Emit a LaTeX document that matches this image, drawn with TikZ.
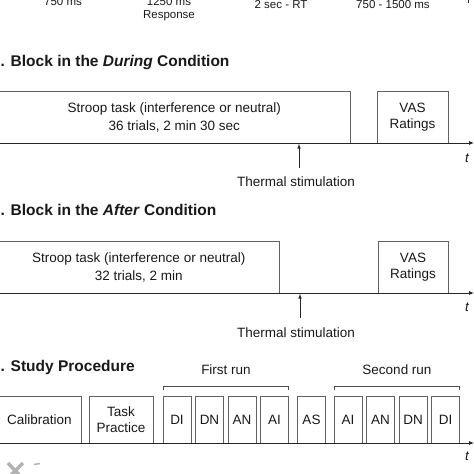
\documentclass[tikz,border=0pt]{standalone}
\usepackage{fontspec}
\setmainfont{Liberation Sans}
\usetikzlibrary{arrows.meta}
\begin{document}
\begin{tikzpicture}[x=1pt,y=-1pt,
  toptxt/.style={font=\fontsize{11.5}{12.5}\selectfont, inner sep=0pt, anchor=base, align=center, text=black!90},
  lbl/.style={font=\fontsize{13.5}{16}\selectfont, inner sep=0pt, anchor=base, text=black!90},
  ttl/.style={font=\fontsize{15.5}{18}\selectfont\bfseries, inner sep=0pt, anchor=base west, text=black!90},
  tlbl/.style={font=\fontsize{13.5}{16}\selectfont\itshape, inner sep=0pt, text=black!90},
  box/.style={draw=black!62, line width=0.75pt, inner sep=0pt, align=center, text=black!90,
              font=\fontsize{13.5}{16}\selectfont},
  axis/.style={draw=black!85, line width=0.8pt, -{Latex[length=5pt,width=4pt]}},
  stim/.style={draw=black!85, line width=0.8pt, -{Latex[length=5pt,width=3.5pt]}},
  brk/.style={draw=black!70, line width=0.75pt},
  wmark/.style={draw=black!30, line width=3.5pt},
]
\useasboundingbox (0,0) rectangle (474,474);
\clip (0,0) rectangle (474,474);

% ---- top (cut) labels ----
\node[toptxt] (t1) at (63,5.5) {750 ms};
\node[toptxt] (t2) at (169,5.5) {1250 ms};
\node[toptxt] (t3) at (169,18) {Response};
\node[toptxt] (t4) at (281,8.5) {2 sec - RT};
\node[toptxt] (t5) at (393,8.5) {750 - 1500 ms};
\coordinate (tk0) at (468,0);
\coordinate (tk1) at (468,3);
\draw[black!80, line width=0.8pt] (tk0) -- (tk1);

% ---- B: During condition ----
\node[ttl] (titB) at (0.5,66) {. Block in the \textit{During} Condition};
\node[box, minimum width=351.5, minimum height=52, font=\fontsize{13.5}{18}\selectfont]
  (stroopB) at (174.25,117) {Stroop task (interference or neutral)\\36 trials, 2 min 30 sec};
\node[box, minimum width=71, minimum height=52] (vasB) at (412.5,117) {VAS\\Ratings};
\coordinate (axB0) at (-5,143);
\coordinate (axB1) at (474,143);
\draw[axis] (axB0) -- (axB1);
\node[tlbl] (tB) at (467,158.5) {t};
\node[lbl] (thB) at (296,186.5) {Thermal stimulation};
\coordinate (sB0) at (299,168);
\coordinate (sB1) at (299,143.5);
\draw[stim] (sB0) -- (sB1);

% ---- C: After condition ----
\node[ttl] (titC) at (0.5,215.5) {. Block in the \textit{After} Condition};
\node[box, minimum width=280.5, minimum height=52, font=\fontsize{13.5}{18}\selectfont]
  (stroopC) at (138.75,267) {Stroop task (interference or neutral)\\32 trials, 2 min};
\node[box, minimum width=70, minimum height=52] (vasC) at (413,267) {VAS\\Ratings};
\coordinate (axC0) at (-5,293);
\coordinate (axC1) at (474,293);
\draw[axis] (axC0) -- (axC1);
\node[tlbl] (tC) at (467,307.5) {t};
\node[lbl] (thC) at (296,337) {Thermal stimulation};
\coordinate (sC0) at (300,318);
\coordinate (sC1) at (300,293.5);
\draw[stim] (sC0) -- (sC1);

% ---- D: Study procedure ----
\node[ttl] (titD) at (0.5,371.3) {. Study Procedure};
\node[lbl] (fr) at (226,374) {First run};
\node[lbl] (sr) at (397,374) {Second run};
\coordinate (fr0) at (163,390);
\coordinate (fr1) at (163,386);
\coordinate (fr2) at (288,386);
\coordinate (fr3) at (288,390);
\draw[brk] (fr0) -- (fr1) -- (fr2) -- (fr3);
\coordinate (sr0) at (334,390);
\coordinate (sr1) at (334,386);
\coordinate (sr2) at (459,386);
\coordinate (sr3) at (459,390);
\draw[brk] (sr0) -- (sr1) -- (sr2) -- (sr3);

\node[box, minimum width=83, minimum height=47] (cal) at (39.5,419.5) {Calibration};
\node[box, minimum width=64, minimum height=47, font=\fontsize{13.5}{15.5}\selectfont] (tp) at (121,419.5) {Task\\Practice};
\node[box, minimum width=28, minimum height=47] (d1) at (177,419.5) {DI};
\node[box, minimum width=28, minimum height=47] (d2) at (209.5,419.5) {DN};
\node[box, minimum width=28, minimum height=47] (d3) at (242,419.5) {AN};
\node[box, minimum width=28, minimum height=47] (d4) at (274.5,419.5) {AI};
\node[box, minimum width=28, minimum height=47] (d5) at (311.5,419.5) {AS};
\node[box, minimum width=28, minimum height=47] (d6) at (348,419.5) {AI};
\node[box, minimum width=28, minimum height=47] (d7) at (380.5,419.5) {AN};
\node[box, minimum width=28, minimum height=47] (d8) at (413,419.5) {DN};
\node[box, minimum width=28, minimum height=47] (d9) at (445.5,419.5) {DI};
\coordinate (axD0) at (-5,443);
\coordinate (axD1) at (474,443);
\draw[axis] (axD0) -- (axD1);
\node[tlbl] (tD) at (467,456) {t};

% ---- watermark fragment ----
\coordinate (w0) at (8,463);
\coordinate (w1) at (22,478);
\coordinate (w2) at (23,463);
\coordinate (w3) at (8,478);
\draw[wmark] (w0) -- (w1);
\draw[wmark] (w2) -- (w3);
\coordinate (w4) at (34,464.5);
\coordinate (w5) at (40,463.5);
\draw[draw=black!30, line width=1.5pt] (w4) -- (w5);
\end{tikzpicture}
\end{document}
